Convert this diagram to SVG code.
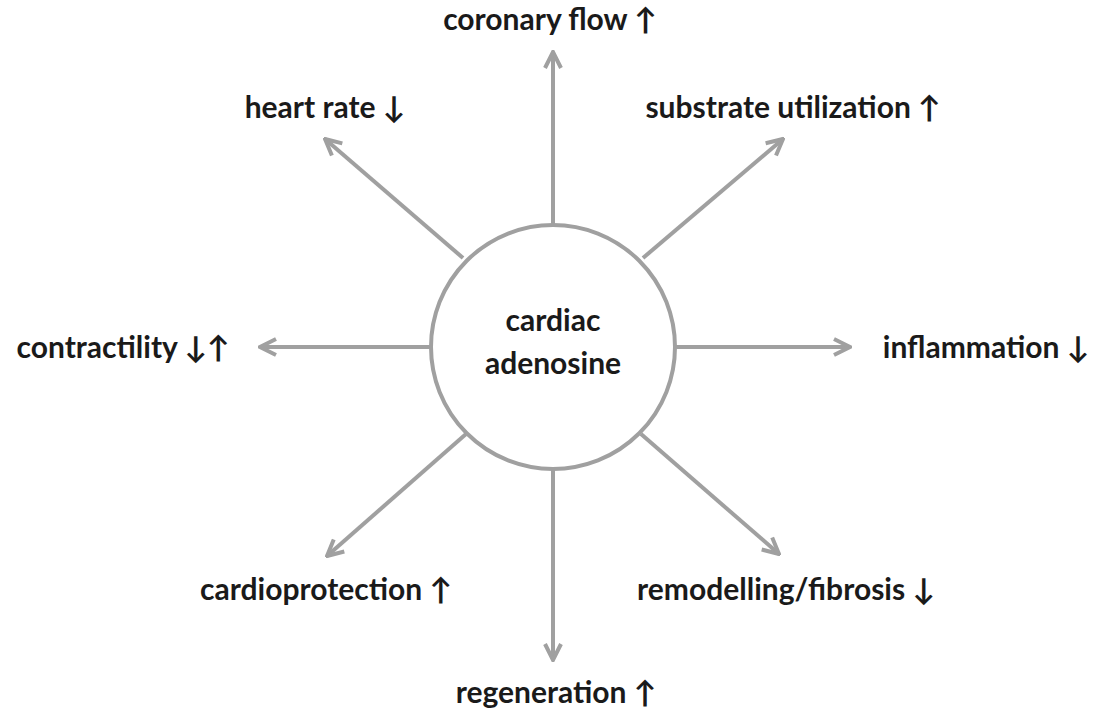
<svg xmlns="http://www.w3.org/2000/svg" width="1109" height="713" viewBox="0 0 1109 713">
<style>
text{font-family:Lato,"Open Sans","Liberation Sans",sans-serif;font-weight:700;font-size:30px;fill:#1a1a1a;text-anchor:middle}
.c{fill:none;stroke:#a0a0a0;stroke-width:4}
</style>
<defs>
<marker id="a" viewBox="0 0 20 20" refX="18" refY="10" markerWidth="20" markerHeight="20" markerUnits="userSpaceOnUse" orient="auto">
<path d="M2,2 L18,10 L2,18" fill="none" stroke="#a0a0a0" stroke-width="4"/>
</marker>
</defs>
<rect width="1109" height="713" fill="#fff"/>
<g id="connectors">
<line class="c" x1="553" y1="225" x2="553" y2="52" marker-end="url(#a)"/>
<line class="c" x1="553" y1="469" x2="553" y2="660" marker-end="url(#a)"/>
<line class="c" x1="431" y1="347" x2="260" y2="347" marker-end="url(#a)"/>
<line class="c" x1="675" y1="347" x2="850" y2="347" marker-end="url(#a)"/>
<line class="c" x1="463" y1="258" x2="325" y2="139" marker-end="url(#a)"/>
<line class="c" x1="643" y1="258" x2="783" y2="139" marker-end="url(#a)"/>
<line class="c" x1="466" y1="434" x2="327" y2="556" marker-end="url(#a)"/>
<line class="c" x1="641" y1="434" x2="779" y2="554" marker-end="url(#a)"/>
</g>
<g id="center">
<circle cx="553" cy="347" r="122" fill="#fff" stroke="#a0a0a0" stroke-width="4"/>
<text x="553" y="331">cardiac</text>
<text x="553" y="374">adenosine</text>
</g>
<g id="n1"><text x="550" y="30">coronary flow ↑</text></g>
<g id="n2"><text x="325" y="118">heart rate ↓</text></g>
<g id="n3"><text x="793" y="118">substrate utilization ↑</text></g>
<g id="n4"><text x="123" y="358">contractility ↓↑</text></g>
<g id="n5"><text x="986" y="358">inflammation ↓</text></g>
<g id="n6"><text x="326" y="600">cardioprotection ↑</text></g>
<g id="n7"><text x="786" y="600">remodelling/fibrosis ↓</text></g>
<g id="n8"><text x="556" y="703">regeneration ↑</text></g>
</svg>
